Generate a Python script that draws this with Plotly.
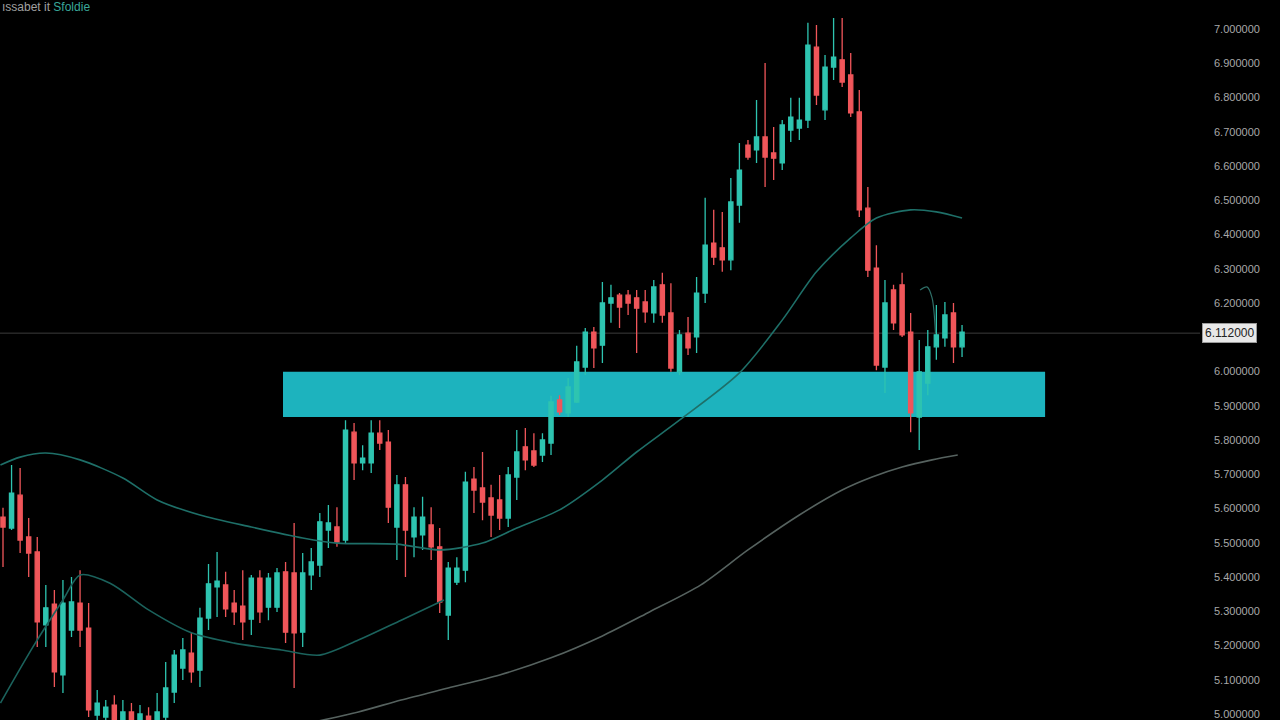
import plotly.graph_objects as go

# ---------------- data ----------------
opens = [5.575, 5.543, 5.639, 5.517, 5.473, 5.260, 5.321, 5.114, 5.245, 5.324,
         5.251, 4.997, 4.991, 5.026, 4.977, 5.006, 4.968, 4.994, 4.977, 4.991,
         5.064, 5.134, 5.178, 5.128, 5.280, 5.371, 5.377, 5.324, 5.315, 5.277,
         5.397, 5.312, 5.312, 5.415, 5.412, 5.239, 5.406, 5.435, 5.537, 5.546,
         5.508, 5.823, 5.733, 5.733, 5.820, 5.794, 5.546, 5.669, 5.517, 5.523,
         5.552, 5.488, 5.289, 5.385, 5.420, 5.686, 5.660, 5.631, 5.625, 5.572,
         5.692, 5.780, 5.768, 5.756, 5.791, 5.917, 5.879, 5.911, 6.013, 6.115,
         6.077, 6.200, 6.223, 6.223, 6.215, 6.203, 6.171, 6.253, 6.171, 5.999,
         6.112, 6.101, 6.229, 6.375, 6.361, 6.326, 6.486, 6.661, 6.647, 6.685,
         6.638, 6.609, 6.705, 6.711, 6.734, 6.947, 6.764, 6.889, 6.910, 6.866,
         6.758, 6.477, 6.302, 6.013, 6.238, 6.253, 6.115, 5.867, 5.966, 6.072,
         6.098, 6.171, 6.072]
highs = [5.602, 5.727, 5.718, 5.572, 5.517, 5.377, 5.362, 5.391, 5.400, 5.420,
         5.324, 5.070, 5.041, 5.055, 5.041, 5.032, 5.026, 5.020, 5.061, 5.152,
         5.187, 5.222, 5.237, 5.310, 5.438, 5.473, 5.415, 5.362, 5.420, 5.406,
         5.420, 5.412, 5.426, 5.444, 5.558, 5.470, 5.485, 5.587, 5.610, 5.604,
         5.858, 5.850, 5.785, 5.858, 5.858, 5.829, 5.698, 5.692, 5.604, 5.634,
         5.604, 5.543, 5.444, 5.458, 5.707, 5.721, 5.765, 5.669, 5.698, 5.721,
         5.829, 5.835, 5.820, 5.820, 5.929, 5.931, 5.981, 6.075, 6.127, 6.130,
         6.261, 6.253, 6.229, 6.238, 6.238, 6.238, 6.267, 6.288, 6.258, 6.121,
         6.159, 6.276, 6.507, 6.472, 6.466, 6.565, 6.667, 6.676, 6.793, 6.901,
         6.714, 6.734, 6.799, 6.799, 7.018, 7.012, 6.924, 7.032, 7.032, 6.930,
         6.822, 6.539, 6.369, 6.267, 6.253, 6.288, 6.171, 6.092, 6.121, 6.194,
         6.203, 6.200, 6.136]
lows = [5.429, 5.537, 5.470, 5.400, 5.196, 5.196, 5.079, 5.061, 5.225, 5.196,
        4.991, 4.982, 4.982, 4.968, 4.959, 4.962, 4.953, 4.953, 4.959, 4.982,
        5.032, 5.099, 5.091, 5.079, 5.245, 5.283, 5.283, 5.260, 5.216, 5.231,
        5.266, 5.274, 5.298, 5.207, 5.076, 5.196, 5.362, 5.400, 5.485, 5.488,
        5.499, 5.683, 5.712, 5.704, 5.771, 5.558, 5.450, 5.400, 5.458, 5.479,
        5.450, 5.295, 5.216, 5.377, 5.385, 5.587, 5.566, 5.517, 5.537, 5.546,
        5.625, 5.712, 5.721, 5.736, 5.756, 5.873, 5.867, 5.908, 5.990, 6.010,
        6.025, 6.142, 6.127, 6.165, 6.054, 6.142, 6.142, 6.142, 5.999, 5.990,
        6.048, 6.054, 6.200, 6.311, 6.291, 6.296, 6.434, 6.618, 6.609, 6.539,
        6.559, 6.588, 6.670, 6.676, 6.711, 6.778, 6.734, 6.851, 6.831, 6.743,
        6.451, 6.276, 6.004, 5.937, 6.121, 6.101, 5.823, 5.771, 5.931, 6.034,
        6.072, 6.025, 6.042]
closes = [5.546, 5.645, 5.508, 5.470, 5.269, 5.310, 5.123, 5.324, 5.327, 5.245,
          5.012, 5.032, 5.020, 4.982, 5.006, 4.982, 5.000, 4.971, 5.006, 5.076,
          5.172, 5.187, 5.123, 5.280, 5.380, 5.388, 5.307, 5.298, 5.269, 5.397,
          5.298, 5.397, 5.412, 5.239, 5.237, 5.412, 5.444, 5.561, 5.558, 5.502,
          5.829, 5.733, 5.747, 5.820, 5.791, 5.604, 5.669, 5.537, 5.575, 5.575,
          5.488, 5.327, 5.426, 5.426, 5.677, 5.654, 5.619, 5.581, 5.572, 5.698,
          5.765, 5.742, 5.727, 5.800, 5.911, 5.882, 5.955, 6.028, 6.115, 6.069,
          6.200, 6.215, 6.188, 6.200, 6.185, 6.174, 6.247, 6.165, 6.010, 6.107,
          6.069, 6.229, 6.369, 6.334, 6.326, 6.495, 6.588, 6.626, 6.685, 6.626,
          6.623, 6.720, 6.743, 6.734, 6.953, 6.807, 6.889, 6.918, 6.845, 6.755,
          6.472, 6.296, 6.019, 6.200, 6.142, 6.107, 5.879, 5.999, 6.072, 6.107,
          6.165, 6.072, 6.115]
bars = list(range(len(opens)))

# moving-average curves, sampled at bar positions
ma_fast_x = [-0.3, 2, 5, 9, 14, 18, 23, 29, 35, 39, 46, 51, 56, 60, 65, 70, 74,
             79, 86, 91, 95, 99, 102, 106, 109, 112]
ma_fast = [5.727, 5.750, 5.762, 5.742, 5.689, 5.625, 5.581, 5.546, 5.514, 5.499,
           5.496, 5.479, 5.499, 5.543, 5.596, 5.683, 5.765, 5.858, 5.996, 6.150,
           6.291, 6.390, 6.448, 6.472, 6.466, 6.448]
ma_mid_x = [-0.3, 3.5, 7, 9, 12.5, 17, 22, 27, 32.5, 37, 41.5, 46.5, 51.5]
ma_mid = [5.032, 5.196, 5.333, 5.406, 5.382, 5.304, 5.237, 5.207, 5.187, 5.172,
          5.216, 5.274, 5.333]
ma_slow_x = [36, 41.5, 46.5, 52, 58, 64, 70, 75.5, 81.5, 87, 93, 98, 101.5, 105,
             108.5, 111.5]
ma_slow = [4.975, 5.006, 5.041, 5.076, 5.114, 5.164, 5.228, 5.298, 5.377, 5.479,
           5.581, 5.654, 5.692, 5.721, 5.742, 5.756]
arc_x = [107.1, 107.9, 108.5, 108.9]
arc_y = [6.238, 6.247, 6.215, 6.112]

zone_x = [32.7, 121.7]
zone_y = [5.867, 5.999]
last_price = 6.112
tick_vals = [5.0, 5.1, 5.2, 5.3, 5.4, 5.5, 5.6, 5.7, 5.8, 5.9, 6.0,
             6.2, 6.3, 6.4, 6.5, 6.6, 6.7, 6.8, 6.9, 7.0]
tick_text = ["%.6f" % v for v in tick_vals]

# ---------------- figure ----------------
UP = "#2ec4b0"
DOWN = "#f0565a"

fig = go.Figure()

for xs, ys, col, w in [(ma_slow_x, ma_slow, "#56625f", 1.6),
                       (ma_mid_x, ma_mid, "#1b625c", 1.6),
                       (ma_fast_x, ma_fast, "#1e6f68", 1.6),
                       (arc_x, arc_y, "#2f6f68", 1.2)]:
    fig.add_trace(go.Scatter(x=xs, y=ys, mode="lines",
                             line=dict(color=col, width=w, shape="spline", smoothing=0.8),
                             hoverinfo="skip", showlegend=False))

fig.add_trace(go.Candlestick(
    x=bars, open=opens, high=highs, low=lows, close=closes,
    increasing=dict(line=dict(color=UP, width=1.3), fillcolor=UP),
    decreasing=dict(line=dict(color=DOWN, width=1.3), fillcolor=DOWN),
    whiskerwidth=0, showlegend=False, hoverinfo="skip"))

fig.add_shape(type="rect", xref="x", yref="y",
              x0=zone_x[0], x1=zone_x[1], y0=zone_y[0], y1=zone_y[1],
              fillcolor="#1db3be", line=dict(width=0), layer="below")

fig.add_shape(type="line", xref="paper", yref="y", x0=0, x1=1,
              y0=last_price, y1=last_price, line=dict(color="#3c3c3c", width=1),
              layer="below")

fig.add_annotation(xref="paper", yref="y", x=1, y=last_price, xanchor="left",
                   xshift=2, text="%.6f" % last_price, showarrow=False,
                   font=dict(family="Liberation Sans", size=12, color="#222222"),
                   bgcolor="#e8e8e8", bordercolor="#9a9a9a", borderwidth=1, borderpad=2)

fig.add_annotation(xref="paper", yref="paper", x=0, y=1, xanchor="left",
                   yanchor="top", yshift=2, showarrow=False,
                   text="ıssabet it <span style='color:#3aa89a'>Sfoldie</span>",
                   font=dict(family="Liberation Sans", size=12, color="#a0a0a0"))

fig.update_layout(
    width=1280, height=720,
    paper_bgcolor="#000000", plot_bgcolor="#000000",
    margin=dict(l=0, r=80, t=0, b=0),
    showlegend=False,
    hovermode=False,
    xaxis=dict(range=[-0.35, 139.79], showgrid=False, zeroline=False,
               showticklabels=False, rangeslider=dict(visible=False), fixedrange=True),
    yaxis=dict(range=[4.9825, 7.0847], side="right", showgrid=False, zeroline=False,
               tickvals=tick_vals, ticktext=tick_text, ticks="",
               ticklabelstandoff=13,
               tickfont=dict(family="Liberation Sans", size=11, color="#a8a8a8"),
               fixedrange=True),
)

fig.write_html("out.html",
               config={"displayModeBar": False, "staticPlot": True},
               post_script="document.body.style.margin='0px';"
                           "document.body.style.background='#000000';")
